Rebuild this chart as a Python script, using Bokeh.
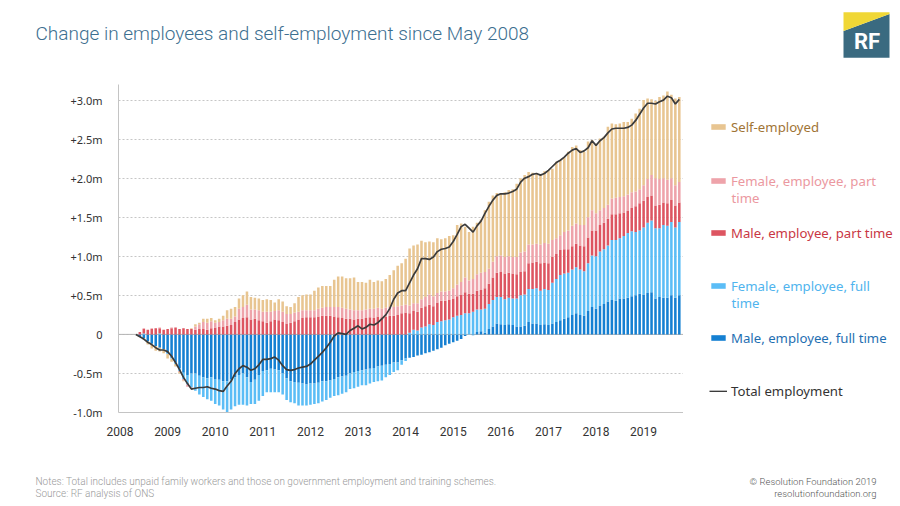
import numpy as np
import pandas as pd
from bokeh.plotting import figure
from bokeh.layouts import column, row
from bokeh.models import (Range1d, FixedTicker, Span, Label, Legend, LegendItem,
                          ColumnDataSource)
from bokeh.embed import file_html
from bokeh.resources import INLINE

# Monthly change since May 2008, millions of people
start_month = "2008-05-01"

male_ft = [0, -0.03, -0.05, -0.09, -0.12, -0.15, -0.17, -0.19, -0.24, -0.30,
           -0.36, -0.43, -0.49, -0.52, -0.50, -0.50, -0.53, -0.55, -0.56, -0.55,
           -0.57, -0.58, -0.60, -0.60, -0.58, -0.55, -0.52, -0.50, -0.55, -0.61,
           -0.58, -0.52, -0.47, -0.46, -0.44, -0.45, -0.46, -0.50, -0.56, -0.60,
           -0.61, -0.62, -0.63, -0.64, -0.63, -0.63, -0.62, -0.60, -0.60, -0.59,
           -0.57, -0.55, -0.54, -0.53, -0.50, -0.48, -0.47, -0.46, -0.45, -0.44,
           -0.43, -0.41, -0.40, -0.39, -0.38, -0.36, -0.36, -0.33, -0.31, -0.30,
           -0.29, -0.27, -0.26, -0.24, -0.23, -0.21, -0.19, -0.17, -0.14, -0.12,
           -0.10, -0.08, -0.06, -0.02, 0.00, -0.01, 0.03, 0.04, 0.02, 0.07,
           0.10, 0.14, 0.13, 0.12, 0.13, 0.12, 0.10, 0.10, 0.11, 0.16,
           0.14, 0.14, 0.12, 0.13, 0.12, 0.14, 0.16, 0.18, 0.20, 0.22,
           0.25, 0.27, 0.25, 0.24, 0.30, 0.35, 0.33, 0.37, 0.39, 0.42,
           0.44, 0.43, 0.46, 0.46, 0.47, 0.49, 0.50, 0.52, 0.51, 0.53,
           0.54, 0.46, 0.48, 0.47, 0.47, 0.50, 0.47, 0.50]

female_ft = [0, 0.00, 0.01, 0.00, -0.01, 0.00, 0.01, 0.00, -0.01, -0.01,
             -0.02, -0.04, -0.08, -0.12, -0.18, -0.22, -0.24, -0.25, -0.27, -0.30,
             -0.32, -0.33, -0.36, -0.40, -0.38, -0.37, -0.38, -0.40, -0.36, -0.28,
             -0.31, -0.33, -0.32, -0.28, -0.30, -0.29, -0.28, -0.27, -0.28, -0.27,
             -0.27, -0.29, -0.28, -0.27, -0.27, -0.26, -0.26, -0.26, -0.24, -0.22,
             -0.22, -0.23, -0.22, -0.21, -0.20, -0.21, -0.20, -0.19, -0.20, -0.19,
             -0.18, -0.19, -0.19, -0.16, -0.14, -0.12, -0.10, -0.06, -0.03, 0.02,
             0.06, 0.05, 0.09, 0.10, 0.13, 0.12, 0.16, 0.17, 0.18, 0.19,
             0.22, 0.24, 0.25, 0.27, 0.27, 0.29, 0.29, 0.28, 0.31, 0.32,
             0.34, 0.34, 0.35, 0.33, 0.34, 0.34, 0.36, 0.40, 0.40, 0.42,
             0.44, 0.45, 0.44, 0.45, 0.45, 0.52, 0.55, 0.58, 0.58, 0.57,
             0.58, 0.59, 0.58, 0.57, 0.61, 0.66, 0.67, 0.69, 0.70, 0.72,
             0.77, 0.78, 0.77, 0.80, 0.83, 0.83, 0.81, 0.81, 0.86, 0.90,
             0.92, 0.90, 0.88, 0.93, 0.92, 0.94, 0.90, 0.94]

male_pt = [0, 0.03, 0.06, 0.06, 0.07, 0.08, 0.07, 0.06, 0.07, 0.08,
           0.09, 0.07, 0.08, 0.07, 0.07, 0.06, 0.07, 0.07, 0.06, 0.08,
           0.09, 0.10, 0.10, 0.11, 0.12, 0.16, 0.19, 0.21, 0.22, 0.19,
           0.20, 0.18, 0.17, 0.15, 0.17, 0.19, 0.18, 0.16, 0.14, 0.15,
           0.17, 0.19, 0.21, 0.22, 0.22, 0.22, 0.23, 0.24, 0.24, 0.24,
           0.23, 0.22, 0.21, 0.20, 0.20, 0.19, 0.20, 0.20, 0.21, 0.22,
           0.21, 0.23, 0.22, 0.23, 0.24, 0.24, 0.25, 0.27, 0.28, 0.25,
           0.24, 0.24, 0.25, 0.26, 0.25, 0.24, 0.25, 0.26, 0.25, 0.25,
           0.24, 0.25, 0.26, 0.27, 0.25, 0.23, 0.24, 0.25, 0.26, 0.26,
           0.29, 0.31, 0.32, 0.33, 0.32, 0.32, 0.31, 0.30, 0.30, 0.33,
           0.34, 0.34, 0.35, 0.34, 0.34, 0.33, 0.32, 0.32, 0.31, 0.30,
           0.30, 0.30, 0.31, 0.32, 0.33, 0.32, 0.33, 0.34, 0.34, 0.34,
           0.33, 0.33, 0.32, 0.30, 0.28, 0.30, 0.33, 0.35, 0.34, 0.33,
           0.32, 0.29, 0.30, 0.29, 0.29, 0.28, 0.28, 0.25]

female_pt = [0, 0.00, 0.01, 0.00, 0.01, 0.00, 0.01, 0.00, 0.00, 0.01,
             0.00, -0.01, -0.02, -0.03, -0.02, 0.04, 0.06, 0.09, 0.09, 0.09,
             0.06, 0.06, 0.08, 0.09, 0.08, 0.07, 0.14, 0.14, 0.16, 0.13,
             0.12, 0.13, 0.12, 0.14, 0.12, 0.11, 0.13, 0.13, 0.12, 0.11,
             0.11, 0.10, 0.10, 0.09, 0.09, 0.09, 0.10, 0.10, 0.11, 0.11,
             0.12, 0.13, 0.13, 0.13, 0.12, 0.12, 0.11, 0.11, 0.11, 0.11,
             0.12, 0.11, 0.11, 0.11, 0.11, 0.11, 0.11, 0.10, 0.10, 0.10,
             0.10, 0.11, 0.11, 0.12, 0.13, 0.13, 0.12, 0.12, 0.12, 0.12,
             0.13, 0.15, 0.16, 0.19, 0.17, 0.19, 0.21, 0.22, 0.21, 0.19,
             0.20, 0.21, 0.21, 0.21, 0.21, 0.21, 0.22, 0.25, 0.25, 0.24,
             0.23, 0.23, 0.24, 0.25, 0.25, 0.22, 0.20, 0.19, 0.22, 0.24,
             0.26, 0.26, 0.26, 0.27, 0.26, 0.26, 0.22, 0.19, 0.19, 0.18,
             0.20, 0.21, 0.21, 0.21, 0.21, 0.20, 0.19, 0.18, 0.20, 0.23,
             0.26, 0.35, 0.33, 0.31, 0.30, 0.28, 0.26, 0.26]

self_employed = [0, 0.00, -0.02, -0.04, -0.05, -0.06, -0.05, -0.05, -0.06, -0.04,
                 -0.03, -0.02, -0.01, 0.00, 0.01, 0.03, 0.02, 0.04, 0.05, 0.04,
                 0.03, 0.04, 0.06, 0.11, 0.13, 0.12, 0.13, 0.15, 0.17, 0.16,
                 0.15, 0.15, 0.15, 0.16, 0.15, 0.11, 0.14, 0.13, 0.10, 0.09,
                 0.12, 0.19, 0.19, 0.20, 0.20, 0.25, 0.27, 0.28, 0.27, 0.27,
                 0.35, 0.39, 0.40, 0.39, 0.40, 0.42, 0.36, 0.36, 0.34, 0.37,
                 0.34, 0.35, 0.35, 0.37, 0.41, 0.47, 0.52, 0.54, 0.59, 0.73,
                 0.74, 0.75, 0.75, 0.70, 0.68, 0.69, 0.70, 0.67, 0.68, 0.70,
                 0.68, 0.76, 0.75, 0.65, 0.62, 0.67, 0.66, 0.68, 0.79, 0.86,
                 0.85, 0.81, 0.80, 0.83, 0.85, 0.87, 0.94, 0.95, 0.98, 0.93,
                 0.92, 0.90, 0.90, 0.92, 0.94, 0.91, 0.98, 0.96, 0.96, 1.01,
                 1.01, 1.00, 0.96, 0.94, 0.97, 0.90, 0.89, 0.92, 0.91, 1.00,
                 0.96, 0.94, 0.94, 0.95, 0.93, 0.94, 1.00, 1.03, 1.09, 1.03,
                 0.97, 0.99, 1.05, 1.06, 1.13, 1.07, 1.11, 1.09]

total_employment = [0, -0.03, -0.06, -0.10, -0.13, -0.17, -0.20, -0.20, -0.22, -0.28,
                    -0.36, -0.45, -0.55, -0.63, -0.70, -0.69, -0.68, -0.68, -0.67, -0.69,
                    -0.70, -0.72, -0.73, -0.66, -0.60, -0.50, -0.44, -0.40, -0.42, -0.46,
                    -0.44, -0.39, -0.32, -0.32, -0.31, -0.29, -0.33, -0.40, -0.45, -0.46,
                    -0.45, -0.43, -0.42, -0.41, -0.38, -0.33, -0.28, -0.23, -0.17, -0.10,
                    -0.02, 0.02, 0.01, 0.00, 0.05, 0.08, 0.11, 0.07, 0.09, 0.13,
                    0.12, 0.15, 0.20, 0.25, 0.33, 0.45, 0.53, 0.56, 0.56, 0.66,
                    0.76, 0.84, 0.97, 0.97, 0.96, 0.99, 1.06, 1.09, 1.10, 1.12,
                    1.19, 1.28, 1.38, 1.41, 1.36, 1.31, 1.39, 1.45, 1.55, 1.64,
                    1.72, 1.78, 1.80, 1.80, 1.81, 1.83, 1.86, 1.95, 2.00, 2.02,
                    2.05, 2.06, 2.04, 2.06, 2.10, 2.15, 2.20, 2.23, 2.27, 2.32,
                    2.36, 2.38, 2.33, 2.35, 2.39, 2.48, 2.42, 2.48, 2.52, 2.58,
                    2.63, 2.64, 2.64, 2.64, 2.65, 2.68, 2.74, 2.82, 2.90, 2.96,
                    2.96, 2.95, 2.98, 3.00, 3.05, 3.03, 2.95, 3.01]

year_ticks = [2008, 2009, 2010, 2011, 2012, 2013, 2014, 2015, 2016, 2017, 2018, 2019]
year_labels = [str(y) for y in year_ticks]
value_ticks = [-1.0, -0.5, 0.0, 0.5, 1.0, 1.5, 2.0, 2.5, 3.0]
value_labels = ["-1.0m", "-0.5m", "0", "+0.5m", "+1.0m", "+1.5m", "+2.0m", "+2.5m", "+3.0m"]

# series drawn bottom-up: name, values, bar colour, legend text colour
series = [
    ("Male, employee, full time", male_ft, "#1580d2", "#1f6fb2"),
    ("Female, employee, full time", female_ft, "#5bbdf6", "#4fb4ee"),
    ("Male, employee, part time", male_pt, "#dd5561", "#c93744"),
    ("Female, employee, part time", female_pt, "#eea3aa", "#eb98a0"),
    ("Self-employed", self_employed, "#e8c591", "#9f7435"),
]
line_colour = "#3b3b3b"

months = pd.date_range(start_month, periods=len(total_employment), freq="MS")
xm = (months.year + (months.month - 1) / 12.0).to_numpy(dtype=float)

W = 900
HEAD_H, MAIN_H, FOOT_H = 70, 370, 66
MAIN_W = 683
FL, FT, FB = 118, 14, 342            # frame edges inside the chart figure
PAGE_FT, PAGE_FB = HEAD_H + FT, HEAD_H + FB
LABEL_FONT = "'Roboto Light', Roboto"


def blank(width, height, y_top=0, y_bottom=None):
    """A bare figure whose data units are page pixels (y grows downwards)."""
    if y_bottom is None:
        y_bottom = height
    f = figure(width=width, height=height, output_backend="svg", toolbar_location=None,
               x_range=Range1d(0, width), y_range=Range1d(y_bottom, y_top),
               min_border=0, x_axis_type=None, y_axis_type=None)
    f.outline_line_color = None
    f.grid.grid_line_color = None
    f.background_fill_color = "white"
    f.border_fill_color = "white"
    return f


# ---------- header: title and logo ----------
head = blank(W, HEAD_H)
head.text(x=[35], y=[33], text=["Change in employees and self-employment since May 2008"],
          text_color="#3d6f90", text_font_size="19px", text_baseline="middle",
          text_align="left", text_font={"value": LABEL_FONT})
head.patch(x=[843, 889, 889, 843], y=[30.5, 13.5, 57.3, 57.3], fill_color="#3a6a80",
           line_color=None)
head.patch(x=[843, 889, 889, 843], y=[11.7, 11.7, 13.5, 30.5], fill_color="#f0d736",
           line_color=None)
head.text(x=[866.5], y=[41], text=["RF"], text_color="white", text_font_size="22px",
          text_font_style="bold", text_baseline="middle", text_align="center",
          text_font={"value": "Roboto"})

# ---------- main chart ----------
p = figure(width=MAIN_W, height=MAIN_H, output_backend="svg", toolbar_location=None,
           x_range=Range1d(2007.968, 2019.838), y_range=Range1d(-1.0, 3.2))
p.min_border_left = FL
p.min_border_right = 0
p.min_border_top = FT
p.min_border_bottom = MAIN_H - FB
p.outline_line_color = None
p.background_fill_color = "white"
p.border_fill_color = "white"

p.xgrid.grid_line_color = None
p.ygrid.ticker = FixedTicker(ticks=value_ticks)
p.ygrid.grid_line_color = "#c6c6c6"
p.ygrid.grid_line_dash = "2 2"
p.ygrid.grid_line_width = 1

p.yaxis.ticker = FixedTicker(ticks=value_ticks)
p.yaxis.major_label_overrides = {v: l for v, l in zip(value_ticks, value_labels)}
p.yaxis.axis_line_color = "#c4c4c4"
p.yaxis.major_tick_line_color = None
p.yaxis.minor_tick_line_color = None
p.yaxis.major_label_text_font = "Noto Sans"
p.yaxis.major_label_text_font_size = "11px"
p.yaxis.major_label_text_color = "#333333"
p.yaxis.major_label_standoff = 10

p.xaxis.ticker = FixedTicker(ticks=year_ticks)
p.xaxis.major_label_overrides = {y: l for y, l in zip(year_ticks, year_labels)}
p.xaxis.axis_line_color = "#c4c4c4"
p.xaxis.major_tick_line_color = None
p.xaxis.minor_tick_line_color = None
p.xaxis.major_label_text_font = "Roboto"
p.xaxis.major_label_text_font_size = "12px"
p.xaxis.major_label_text_color = "#333333"
p.xaxis.major_label_standoff = 8

p.add_layout(Span(location=0, dimension="width", line_color="#b5b5b5",
                  line_width=1, level="underlay"))

# stacked bars: positives pile up from zero, negatives pile down
pos = np.zeros(len(xm))
neg = np.zeros(len(xm))
bar_w = 0.64 / 12
sources = {}
for name, vals, col, _ in series:
    v = np.array(vals, dtype=float)
    bottom = np.where(v >= 0, pos, neg)
    top = bottom + v
    pos = np.where(v >= 0, top, pos)
    neg = np.where(v < 0, top, neg)
    src = ColumnDataSource(dict(x=xm, top=top, bottom=bottom))
    sources[name] = src
    p.vbar(x="x", width=bar_w, top="top", bottom="bottom", source=src,
           fill_color=col, line_color=None)

total_src = ColumnDataSource(dict(x=xm, y=total_employment))
p.line("x", "y", source=total_src, line_color=line_colour, line_width=1.7)

# ---------- legend panel (its frame shares the chart's rows) ----------
LEG_W = W - MAIN_W
leg = blank(LEG_W, MAIN_H, y_top=PAGE_FT, y_bottom=PAGE_FB)
leg.x_range = Range1d(MAIN_W, W)
keys = {}
# legend keys reuse each series' source; the series sit outside this panel's range
for name, vals, col, tcol in series:
    r = leg.vbar(x="x", width=bar_w, top="top", bottom="bottom", source=sources[name],
                 fill_color=col, line_color=None)
    keys[name] = (r, tcol)
keys["Total employment"] = (leg.line("x", "y", source=total_src, line_color=line_colour,
                                     line_width=1.7), "#333333")

# page y of each entry's first line, and any wrapped second line
legend_rows = [
    ("Self-employed", "Self-employed", 128, None),
    ("Female, employee, part time", "Female, employee, part", 182, "time"),
    ("Male, employee, part time", "Male, employee, part time", 234, None),
    ("Female, employee, full time", "Female, employee, full", 287, "time"),
    ("Male, employee, full time", "Male, employee, full time", 339, None),
    ("Total employment", "Total employment", 392, None),
]
for key, text, cy, second in legend_rows:
    rend, tcol = keys[key]
    is_line = key == "Total employment"
    lg = Legend(items=[LegendItem(label=text, renderers=[rend])],
                location=(709 - MAIN_W, PAGE_FB - (cy + 7.5)),
                padding=0, margin=0, spacing=0, border_line_color=None,
                background_fill_alpha=0, glyph_width=18,
                glyph_height=2 if is_line else 7, label_height=15,
                label_standoff=4, label_text_color=tcol,
                label_text_font="Noto Sans", label_text_font_size="13.2px")
    leg.add_layout(lg)
    if second:
        leg.add_layout(Label(x=731, y=cy + 15, text=second, text_color=tcol,
                             text_font="Noto Sans", text_font_size="13.2px",
                             text_baseline="middle", text_align="left"))

# ---------- footer ----------
top_y = HEAD_H + MAIN_H
foot = blank(W, FOOT_H, y_top=top_y, y_bottom=top_y + FOOT_H)
notes = ["Notes: Total includes unpaid family workers and those on government employment and training schemes.",
         "Source: RF analysis of ONS"]
credits = ["\u00a9 Resolution Foundation 2019", "resolutionfoundation.org"]
for i, (n, c) in enumerate(zip(notes, credits)):
    yy = 481 + 12 * i
    foot.add_layout(Label(x=35, y=yy, text=n, text_color="#9a9a9a", text_font=LABEL_FONT,
                          text_font_size="10px", text_baseline="middle", text_align="left"))
    foot.add_layout(Label(x=876, y=yy, text=c, text_color="#555555", text_font=LABEL_FONT,
                          text_font_size="9.5px", text_baseline="middle", text_align="right"))

page = column(head, row(p, leg, spacing=0), foot, spacing=0)
open("out.html", "w").write(file_html(page, INLINE))
